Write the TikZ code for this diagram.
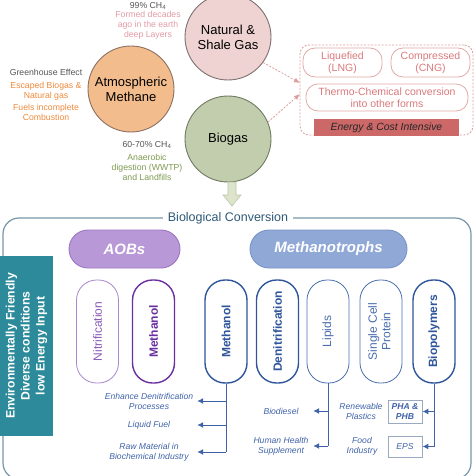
\documentclass[tikz,border=0pt]{standalone}
\usepackage{fontspec}
\setmainfont{Liberation Sans}
\usetikzlibrary{arrows.meta}
\definecolor{ngfill}{HTML}{EFD3D3}
\definecolor{ngline}{HTML}{7F6F6F}
\definecolor{atfill}{HTML}{F2BC8C}
\definecolor{atline}{HTML}{8C7060}
\definecolor{bgfill}{HTML}{C2CDAE}
\definecolor{bgline}{HTML}{6F7A60}
\definecolor{pinktxt}{HTML}{E39AA4}
\definecolor{orangetxt}{HTML}{EE8A3C}
\definecolor{greentxt}{HTML}{7E9A50}
\definecolor{greytxt}{HTML}{555555}
\definecolor{dashcol}{HTML}{DE9E9E}
\definecolor{ipline}{HTML}{E2A8A8}
\definecolor{iptxt}{HTML}{D9787A}
\definecolor{energy}{HTML}{CC6868}
\definecolor{framecol}{HTML}{7896A8}
\definecolor{bctxt}{HTML}{2E5A78}
\definecolor{tealbox}{HTML}{2C8A9A}
\definecolor{aobfill}{HTML}{B898D6}
\definecolor{aobline}{HTML}{9C78C4}
\definecolor{mtfill}{HTML}{90A8D6}
\definecolor{mtline}{HTML}{7A94C8}
\definecolor{nitline}{HTML}{A888CC}
\definecolor{nittxt}{HTML}{8A5AB8}
\definecolor{methp}{HTML}{6B2FA0}
\definecolor{blueA}{HTML}{2F569C}
\definecolor{blueB}{HTML}{4A6EAE}
\definecolor{labblue}{HTML}{3F62A8}
\definecolor{boxline}{HTML}{9AAAC0}
\definecolor{arrfill}{HTML}{DCE5CC}
\definecolor{arrline}{HTML}{B8C4A4}
\begin{document}
\begin{tikzpicture}[x=1pt,y=-1pt,
  bigcircle/.style={circle, minimum size=86pt, line width=0.9pt, align=center, font=\fontsize{13}{15}\selectfont, inner sep=0pt},
  smalltxt/.style={align=center, inner sep=0pt, font=\fontsize{8.7}{10}\selectfont},
  ipill/.style={draw=ipline, line width=0.8pt, rounded corners=12pt, align=center, text=iptxt, inner sep=0pt, font=\fontsize{10.5}{12}\selectfont},
  hpill/.style={rounded corners=19pt, line width=0.9pt, minimum height=38pt, text=white, inner sep=0pt, font=\fontsize{15}{17}\selectfont\bfseries\itshape},
  vpill/.style={rounded corners=20pt, minimum width=42pt, minimum height=103pt, inner sep=0pt, fill=white, font=\fontsize{12}{13.5}\selectfont},
  thinb/.style={vpill, draw=blueB, line width=0.8pt, text=blueB},
  thickb/.style={vpill, draw=blueA, line width=1.4pt, text=blueA, font=\fontsize{12}{13.5}\selectfont\bfseries},
  lab/.style={align=center, inner sep=0pt, text=labblue, font=\fontsize{8.6}{10}\selectfont\itshape},
  cline/.style={draw=labblue, line width=1pt},
  carr/.style={draw=labblue, line width=1pt, -{Latex[length=6pt,width=6pt]}},
  darr/.style={draw=dashcol, line width=0.8pt, dash pattern=on 2pt off 1.5pt, -{Latex[length=6pt,width=5pt]}},
  pbox/.style={draw=boxline, line width=0.9pt, fill=white, text=labblue, inner sep=0pt, align=center, minimum width=34pt, font=\fontsize{8.6}{10}\selectfont\itshape}
]
\useasboundingbox (0,0) rectangle (474,476);

% ---- top circles ----
\node[bigcircle, fill=ngfill, draw=ngline] (ng) at (228,37) {Natural \&\\Shale Gas};
\node[bigcircle, fill=atfill, draw=atline] (at) at (131,89) {Atmospheric\\Methane};
\node[bigcircle, fill=bgfill, draw=bgline] (bg) at (228,139) {Biogas};

% ---- side texts ----
\node[smalltxt, text=greytxt] (ch1) at (148,6) {99\% CH\textsubscript{4}};
\node[smalltxt, text=pinktxt] (ng1) at (148,25) {Formed decades\\ago in the earth\\deep Layers};
\node[smalltxt, text=greytxt] (gh) at (46,72) {Greenhouse Effect};
\node[smalltxt, text=orangetxt] (esc) at (46,91) {Escaped Biogas \&\\Natural gas};
\node[smalltxt, text=orangetxt] (fuel) at (46,112.5) {Fuels incomplete\\Combustion};
\node[smalltxt, text=greytxt] (ch2) at (147,145) {60-70\% CH\textsubscript{4}};
\node[smalltxt, text=greentxt] (ana) at (147,167) {Anaerobic\\digestion (WWTP)\\and Landfills};

% ---- right dashed box ----
\node[draw=dashcol, line width=0.8pt, dash pattern=on 2pt off 1.5pt, rounded corners=9pt, minimum width=173pt, minimum height=90pt] (eb) at (386.5,90) {};
\node[ipill, minimum width=79pt, minimum height=29pt] (lng) at (342.5,62.5) {Liquefied\\(LNG)};
\node[ipill, minimum width=79pt, minimum height=29pt] (cng) at (430.5,62.5) {Compressed\\(CNG)};
\node[ipill, minimum width=162pt, minimum height=27pt] (tc) at (387,97.5) {Thermo-Chemical conversion\\into other forms};
\node[fill=energy, minimum width=145pt, minimum height=17pt, inner sep=0pt, text=black!85, font=\fontsize{10.4}{12}\selectfont\itshape] (ec) at (386.5,127.5) {Energy \& Cost Intensive};
\coordinate (in1) at (300,83);
\coordinate (in2) at (300,94);
\draw[darr] (ng.-36) -- (in1);
\draw[darr] (bg.23) -- (in2);

% ---- frame ----
\draw[framecol, line width=1.2pt, rounded corners=16pt] (3,218) rectangle (471,479);
\node[fill=white, text=bctxt, inner xsep=5pt, inner ysep=2pt, font=\fontsize{12.5}{14}\selectfont] (bc) at (228,218) {Biological Conversion};

% ---- down arrow ----
\draw[fill=arrfill, draw=arrline, line width=0.6pt] (228,182) -- (236,182) -- (236,195) -- (241,195) -- (232,206) -- (223,195) -- (228,195) -- cycle;

% ---- teal box ----
\node[fill=tealbox, minimum width=53pt, minimum height=180pt, inner sep=0pt, text=white] (env) at (26.5,346)
  {\rotatebox{90}{\fontsize{12.2}{15}\selectfont\bfseries\begin{tabular}{@{}c@{}}Environmentally Friendly\\Diverse conditions\\low Energy Input\end{tabular}}};

% ---- group pills ----
\node[hpill, fill=aobfill, draw=aobline, minimum width=111pt] (aob) at (124.5,249) {AOBs};
\node[hpill, fill=mtfill, draw=mtline, minimum width=157pt] (mt) at (328.5,249) {Methanotrophs};

% ---- vertical pills ----
\node[vpill, draw=nitline, line width=0.8pt, text=nittxt] (nit) at (97.5,331.5) {\rotatebox{90}{Nitrification}};
\node[vpill, draw=methp, line width=1.4pt, text=methp, font=\fontsize{12}{13.5}\selectfont\bfseries] (m1) at (153.5,331.5) {\rotatebox{90}{Methanol}};
\node[thickb] (m2) at (226,331.5) {\rotatebox{90}{Methanol}};
\node[thickb] (den) at (277.5,331.5) {\rotatebox{90}{Denitrification}};
\node[thinb] (lip) at (328,331.5) {\rotatebox{90}{Lipids}};
\node[thinb] (scp) at (381,331.5) {\rotatebox{90}{\begin{tabular}{@{}c@{}}Single Cell\\Protein\end{tabular}}};
\node[thickb] (bp) at (434,331.5) {\rotatebox{90}{Biopolymers}};

% ---- methanol outputs ----
\node[lab, minimum width=96pt] (l1) at (149,401) {Enhance Denitrification\\Processes};
\node[lab, minimum width=96pt] (l2) at (149,425) {Liquid Fuel};
\node[lab, minimum width=96pt] (l3) at (149,452) {Raw Material in\\Biochemical Industry};
\draw[cline] (m2.south) -- (m2.south |- l3.east);
\foreach \l in {l1,l2,l3} \draw[carr] (m2.south |- \l.east) -- (\l.east);

% ---- lipid outputs ----
\node[lab, minimum width=64pt] (bd) at (281,411) {Biodiesel};
\node[lab, minimum width=64pt] (hh) at (281,446) {Human Health\\Supplement};
\draw[cline] (lip.south) -- (lip.south |- hh.east);
\foreach \l in {bd,hh} \draw[carr] (lip.south |- \l.east) -- (\l.east);

% ---- biopolymer outputs ----
\node[pbox, minimum height=23pt, font=\fontsize{8.6}{10}\selectfont\bfseries\itshape] (pha) at (405,411.5) {PHA \&\\PHB};
\node[pbox, minimum height=21pt] (eps) at (405,446.5) {EPS};
\node[lab] (rp) at (361,411.5) {Renewable\\Plastics};
\node[lab] (fi) at (362,446) {Food\\Industry};
\draw[cline] (bp.south) -- (bp.south |- eps.east);
\foreach \l in {pha,eps} \draw[carr] (bp.south |- \l.east) -- (\l.east);
\end{tikzpicture}
\end{document}
